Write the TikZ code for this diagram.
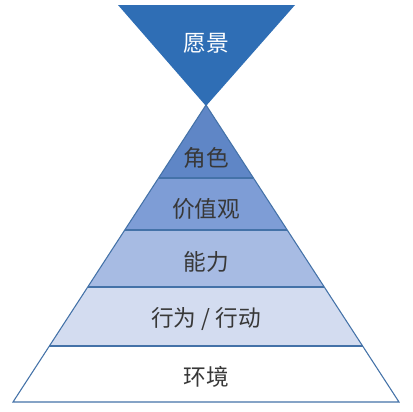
\documentclass[tikz,border=0pt]{standalone}
\usepackage{fontspec}
\newfontfamily\cjk{Noto Sans CJK SC}
\begin{document}
\begin{tikzpicture}[x=0.75pt,y=-0.75pt,
  edge/.style={draw=edgeblue,line width=0.8pt,line join=miter},
  lbl/.style={font=\cjk\fontsize{17}{17}\selectfont,text=black!78,inner sep=0pt}]
\definecolor{edgeblue}{HTML}{4472A8}
\definecolor{topblue}{HTML}{2F6EB5}
\definecolor{l1}{HTML}{5F86C6}
\definecolor{l2}{HTML}{7E9DD6}
\definecolor{l3}{HTML}{A7BBE3}
\definecolor{l4}{HTML}{D3DCF0}
\useasboundingbox (0,0) rectangle (413,411);
\fill[white] (0,0) rectangle (413,411);
% inverted triangle
\fill[topblue] (118,5) -- (295,5) -- (206,106) -- cycle;
% pyramid layers
\fill[white] (49.4,346) -- (362.6,346) -- (399,402) -- (13,402) -- cycle;
\fill[l4] (87.7,287) -- (324.3,287) -- (362.6,346) -- (49.4,346) -- cycle;
\fill[l3] (124.8,230) -- (287.2,230) -- (324.3,287) -- (87.7,287) -- cycle;
\fill[l2] (158.6,178) -- (253.4,178) -- (287.2,230) -- (124.8,230) -- cycle;
\fill[l1] (206,105) -- (253.4,178) -- (158.6,178) -- cycle;
\draw[edge] (206,105) -- (399,402) -- (13,402) -- cycle;
\draw[edge] (158.6,178) -- (253.4,178);
\draw[edge] (124.8,230) -- (287.2,230);
\draw[edge] (87.7,287) -- (324.3,287);
\draw[edge] (49.4,346) -- (362.6,346);
% labels
\node[lbl,text=white] (vision) at (206,43) {愿景};
\node[lbl] (role) at (206,158) {角色};
\node[lbl] (values) at (206,209) {价值观};
\node[lbl] (ability) at (206,262) {能力};
\node[lbl] (action) at (206,319) {行为 / 行动};
\node[lbl] (env) at (206,377) {环境};
\end{tikzpicture}
\end{document}
